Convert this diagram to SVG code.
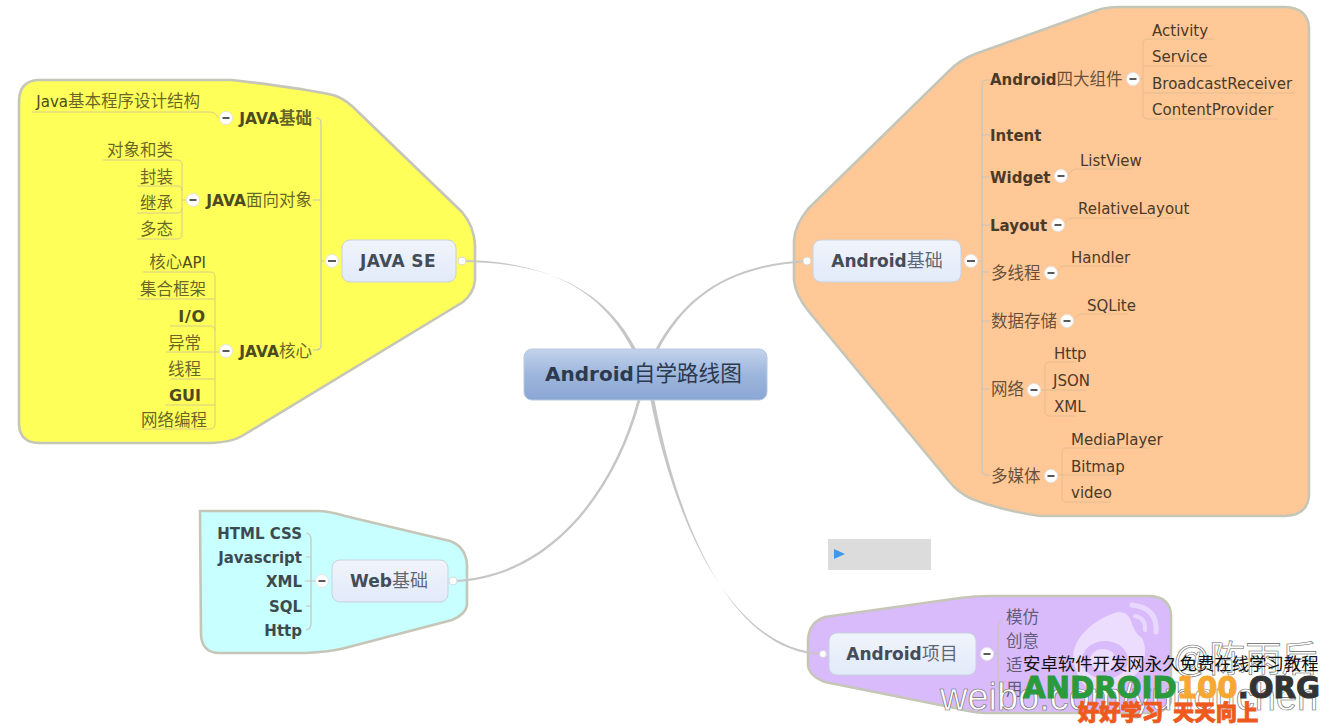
<svg xmlns="http://www.w3.org/2000/svg" width="1322" height="726" viewBox="0 0 1322 726">
<style>
text{font-family:"DejaVu Sans","Noto Sans CJK SC",sans-serif;font-size:15px;fill:#4a4030}
.y text{fill:#4c4a20}
.r text{fill:#4a3a28}
.p text{fill:#4a4a60}
.h text{fill:#3c4a50;font-weight:bold}
.b{font-weight:bold}
.e{text-anchor:end}
.m{text-anchor:middle}
.z{font-size:16.5px;fill-opacity:.85}
.nt{font-size:17px;font-weight:bold}
text.nt{fill:#444c58}
.nt .z{font-size:18px;font-weight:normal}
.c{fill:#c6c6c6;stroke:none}
.l{fill:none;stroke:#d4cc88;stroke-width:1}
.o{fill:none;stroke:#e4bc90;stroke-width:1}
.v{fill:none;stroke:#c8c4bc;stroke-width:1.2}
.t{stroke:#c6c6b8;stroke-width:2.6}
.n{fill:url(#nd);stroke:#c8d2de;stroke-width:1}
.k{fill:#fff;stroke:#e4e4e4;stroke-width:1;r:6.5px}
.d{fill:#fff;stroke:#d0d0d0;stroke-width:.8}
.mi{stroke:#222;stroke-width:1.5}
</style>
<defs>
<linearGradient id="nd" x1="0" y1="0" x2="0" y2="1"><stop offset="0" stop-color="#f0f4fb"/><stop offset="1" stop-color="#e2eafa"/></linearGradient>
<linearGradient id="rt" x1="0" y1="0" x2="0" y2="1"><stop offset="0" stop-color="#c3d3ec"/><stop offset=".5" stop-color="#9db6dc"/><stop offset="1" stop-color="#8aa6d4"/></linearGradient>
</defs>
<rect width="1322" height="726" fill="#fff"/>
<g id="boundaries">
<path class="t" fill="#ffff59" d="M38 80H232Q300 88 333 95Q343 98 352 106L462 212Q474 226 475 245V280Q474 293 463 302L242 436Q232 442 212 443H40Q20 443 19 425V100Q20 81 38 80Z"/>
<path class="t" fill="#ffc896" d="M1120 7H1285Q1308 8 1309 28V495Q1308 515 1285 516H1040Q1000 510 972 499Q958 493 948 480L810 313Q795 295 794 280V240Q795 225 808 209L950 70Q960 60 975 54L1095 11Q1105 7 1120 7Z"/>
<path class="t" fill="#c8ffff" d="M200 511H318Q328 511 345 516L450 541Q466 547 467 565V605Q466 614 452 620L345 648Q330 652 305 653H218Q202 652 201 635Z"/>
<path class="t" fill="#d9bbfc" d="M990 596H1150Q1170 597 1171 615V700Q1170 712 1150 713H985Q970 712 960 709L825 682Q809 676 808 665V640Q809 622 825 617L960 598Q975 596 990 596Z"/>
</g>
<g id="connectors">
<path class="c" d="M460 260C540 260.500 600 285 632.500 350L636.500 350C602 284 541 262 460 262Z"/>
<path class="c" d="M808 260C730 264 685 295 655 350L658.500 350C687 296 731 266 808 262Z"/>
<path class="c" d="M453 580C550 576.500 614 490 637.500 400L640.500 400C616 491 551 579.500 453 582Z"/>
<path class="c" d="M650.500 400C674 520 730 649 822 653L822 655C729 652 677 520 654.500 400Z"/>
<path class="v" d="M324 261H321M316 118Q321 118 321 123V345Q321 350 316 350H313M313 200H321"/>
<path class="l" d="M32 112H210Q216 112 218 118"/>
<path class="l" d="M103 160H177Q182 160 182 165V234Q182 239 177 239H137M137 186H177Q182 186 182 191M137 213H177Q182 213 182 208M182 200H188"/>
<path class="l" d="M143 272H210Q215 272 215 277V424Q215 429 210 429H143M137 299H215M170 326H210Q215 326 215 331M166 352H220M170 379H215M165 405H215"/>
<path class="v" d="M972 261H982M990 80H987Q982 80 982 85V470Q982 475 987 475H990M982 135H990M982 177H990M982 225H990M982 272H990M982 321H990M982 389H990"/>
<path class="o" d="M1138 79H1143M1215 39H1148Q1143 39 1143 44V114Q1143 119 1148 119H1278M1143 66H1212M1143 93H1296"/>
<path class="o" d="M1068 176Q1070 170 1076 169H1132M1064 225Q1066 219 1072 218H1176M1057 272Q1059 266 1065 266H1122M1073 321Q1075 315 1081 314H1128"/>
<path class="o" d="M1040 390H1045M1076 362H1050Q1045 362 1045 367V412Q1045 416 1050 416H1076M1045 390H1087"/>
<path class="o" d="M1057 475H1062M1150 448H1067Q1062 448 1062 453V498Q1062 502 1067 502H1110M1062 475H1115"/>
<path class="v" d="M306 533Q311 534 311 539V624Q311 629 306 630M306 557H311M305 581H316M306 606H311"/>
<path class="v" d="M993 654H998M1003 620Q998 621 998 627V690"/>
</g>
<g id="root">
<rect x="524" y="349" width="243" height="51" rx="8" fill="url(#rt)" stroke="#b8c8de"/>
<text x="545" y="381" class="b" style="font-size:20px;fill:#2c3a50">Android<tspan font-weight="normal" style="font-size:21.6px">自学路线图</tspan></text>
</g>
<g id="java-se">
<rect x="342" y="240" width="114" height="42" rx="8" class="n"/>
<text x="398" y="267" class="nt m" style="letter-spacing:.4px">JAVA SE</text>
<circle cx="462" cy="261" r="4" class="d"/>
<circle cx="332" cy="261" class="k"/><path class="mi" d="M328 261H336"/>
</g>
<g id="java-basics" class="y">
<text x="312" y="124" class="b e" style="font-size:15.5px">JAVA<tspan class="z">基础</tspan></text>
<circle cx="226" cy="118" class="k"/><path class="mi" d="M222.500 118H229.500"/>
<text x="200" y="107" class="e">Java<tspan class="z">基本程序设计结构</tspan></text>
</g>
<g id="java-oop" class="y">
<text x="312" y="206" class="b e" style="font-size:15.5px">JAVA<tspan class="z" font-weight="normal">面向对象</tspan></text>
<circle cx="193" cy="200" class="k"/><path class="mi" d="M189.500 200H196.500"/>
<text x="173" y="156" class="e z">对象和类</text>
<text x="173" y="183" class="e z">封装</text>
<text x="173" y="209" class="e z">继承</text>
<text x="173" y="235" class="e z">多态</text>
</g>
<g id="java-core" class="y">
<text x="312" y="357" class="b e" style="font-size:15.5px">JAVA<tspan class="z" font-weight="normal">核心</tspan></text>
<circle cx="226" cy="351" class="k"/><path class="mi" d="M222.500 351H229.500"/>
<text x="206" y="268" class="e"><tspan class="z">核心</tspan>API</text>
<text x="206" y="295" class="e z">集合框架</text>
<text x="206" y="322" class="b e" style="font-size:16px;letter-spacing:.8px">I/O</text>
<text x="201" y="349" class="e z">异常</text>
<text x="201" y="375" class="e z">线程</text>
<text x="201" y="401" class="b e" style="font-size:16px">GUI</text>
<text x="207" y="426" class="e z">网络编程</text>
</g>
<g id="android-basics">
<rect x="813" y="240" width="148" height="42" rx="8" class="n"/>
<text x="887" y="267" class="nt m">Android<tspan class="z">基础</tspan></text>
<circle cx="807" cy="261" r="4" class="d"/>
<circle cx="971" cy="261" class="k"/><path class="mi" d="M967 261H975"/>
</g>
<g id="android-four" class="r">
<text x="990" y="85" class="b">Android<tspan class="z" font-weight="normal">四大组件</tspan></text>
<circle cx="1133" cy="79" class="k"/><path class="mi" d="M1129.500 79H1136.500"/>
<text x="1152" y="35.500">Activity</text>
<text x="1152" y="62">Service</text>
<text x="1152" y="88.500">BroadcastReceiver</text>
<text x="1152" y="115">ContentProvider</text>
</g>
<g id="intent" class="r"><text x="990" y="141" class="b">Intent</text></g>
<g id="widget" class="r">
<text x="990" y="183" class="b">Widget</text>
<circle cx="1061" cy="176" class="k"/><path class="mi" d="M1057.500 176H1064.500"/>
<text x="1080" y="166">ListView</text>
</g>
<g id="layout" class="r">
<text x="990" y="231" class="b">Layout</text>
<circle cx="1058" cy="225" class="k"/><path class="mi" d="M1054.500 225H1061.500"/>
<text x="1078" y="214">RelativeLayout</text>
</g>
<g id="threads" class="r">
<text x="991" y="279" class="z">多线程</text>
<circle cx="1051" cy="273" class="k"/><path class="mi" d="M1047.500 273H1054.500"/>
<text x="1071" y="262.500">Handler</text>
</g>
<g id="storage" class="r">
<text x="991" y="327" class="z">数据存储</text>
<circle cx="1067" cy="321" class="k"/><path class="mi" d="M1063.500 321H1070.500"/>
<text x="1087" y="310.500">SQLite</text>
</g>
<g id="network" class="r">
<text x="991" y="395" class="z">网络</text>
<circle cx="1034" cy="390" class="k"/><path class="mi" d="M1030.500 390H1037.500"/>
<text x="1054" y="359">Http</text>
<text x="1053" y="385.500">JSON</text>
<text x="1054" y="412">XML</text>
</g>
<g id="media" class="r">
<text x="991" y="482" class="z">多媒体</text>
<circle cx="1051" cy="476" class="k"/><path class="mi" d="M1047.500 476H1054.500"/>
<text x="1071" y="445">MediaPlayer</text>
<text x="1071" y="471.500">Bitmap</text>
<text x="1071" y="498">video</text>
</g>
<g id="web-basics" class="h">
<rect x="332" y="560" width="116" height="42" rx="8" class="n"/>
<text x="389" y="587" class="nt m">Web<tspan class="z">基础</tspan></text>
<circle cx="453" cy="581" r="4" class="d"/>
<circle cx="322" cy="581" class="k"/><path class="mi" d="M318.500 581H325.500"/>
<text x="302" y="539" class="e">HTML CSS</text>
<text x="302" y="563" class="e">Javascript</text>
<text x="302" y="587" class="e">XML</text>
<text x="302" y="612" class="e">SQL</text>
<text x="302" y="636" class="e">Http</text>
</g>
<g id="android-projects" class="p">
<rect x="829" y="633" width="147" height="42" rx="8" class="n"/>
<text x="902" y="660" class="nt m">Android<tspan class="z">项目</tspan></text>
<circle cx="823" cy="654" r="3.500" class="d"/>
<circle cx="987" cy="654" class="k"/><path class="mi" d="M983.500 654H990.500"/>
<text x="1006" y="623" class="z">模仿</text>
<text x="1006" y="647" class="z">创意</text>
<text x="1006" y="671" class="z">适</text>
<text x="1006" y="695" class="z">用</text>
</g>
<g id="note">
<rect x="828" y="539" width="103" height="31" fill="#dcdcdc"/>
<path d="M834 549L845 554L834 559Z" fill="#3f98ea"/>
</g>
<g id="watermark">
<g fill="none" stroke="#e9d8fd" stroke-linecap="round">
<path d="M1132 605Q1158 608 1156 632" stroke-width="5"/>
<path d="M1135 616Q1146 618 1145 630" stroke-width="4"/>
</g>
<path d="M1074 664C1068 640 1095 618 1118 612C1135 612 1128 628 1142 638C1155 665 1125 692 1100 692C1085 690 1078 680 1074 664Z" fill="#ecdcfd"/>
<ellipse cx="1105" cy="660" rx="23" ry="19" fill="#d9bbfc"/>
<ellipse cx="1103" cy="660" rx="13" ry="11" fill="#ecdcfd"/>
<text x="940" y="710" style="font-size:38px;fill:#fff;stroke:#666;stroke-width:.6;font-family:'Liberation Sans',sans-serif">weibo.com/yuhouchen</text>
<text x="1173" y="672" style="font-size:36px;fill:#fff;stroke:#666;stroke-width:.6;font-family:'Liberation Sans','Noto Sans CJK SC',sans-serif">@陈雨后</text>
<text x="1023" y="670" style="font-size:17.4px;fill:#111;font-family:'Noto Sans CJK SC',sans-serif">安卓软件开发网永久免费在线学习教程</text>
<text x="1023" y="698" style="font-size:30px;font-weight:900;font-family:'DejaVu Sans',sans-serif;fill:#2b9a3c;stroke:#2b9a3c;stroke-width:1" textLength="297" lengthAdjust="spacingAndGlyphs">ANDROID<tspan style="fill:#f7a832;stroke:#f7a832">100</tspan><tspan style="fill:#333;stroke:#333">.ORG</tspan></text>
<text x="1078" y="720" style="font-size:21.3px;font-weight:900;fill:#ee5a1e;stroke:#ee5a1e;stroke-width:.8;word-spacing:5px;font-family:'Noto Sans CJK SC',sans-serif">好好学习 天天向上</text>
</g>
</svg>
